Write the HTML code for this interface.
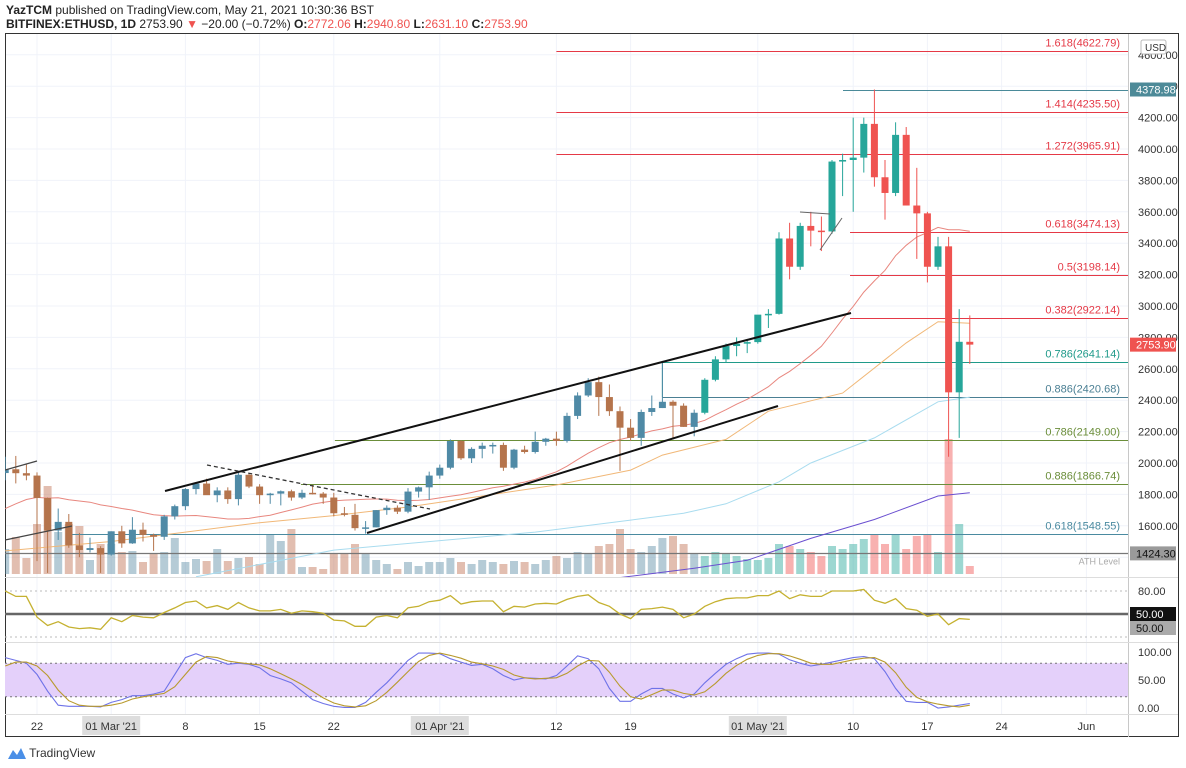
<!DOCTYPE html>
<html><head><meta charset="utf-8"><style>
html,body{margin:0;padding:0;background:#fff;width:1186px;height:768px;overflow:hidden;font-family:"Liberation Sans",sans-serif}
#hdr{position:absolute;left:6px;top:3px;font-size:12px;color:#222;line-height:14px}
#hdr .r{color:#ef5350}
svg{position:absolute;left:0;top:0}
#foot{position:absolute;left:8px;top:745px;font-size:12px;color:#333}
</style></head><body>
<div id="hdr">
<div><b>YazTCM</b> published on TradingView.com, May 21, 2021 10:30:36 BST</div>
<div><b>BITFINEX:ETHUSD, 1D</b> 2753.90 <span class="r">▼</span> −20.00 (−0.72%) <b>O:</b><span class="r">2772.06</span> <b>H:</b><span class="r">2940.80</span> <b>L:</b><span class="r">2631.10</span> <b>C:</b><span class="r">2753.90</span></div>
</div>
<svg id="chart" width="1186" height="768"></svg>
<div id="foot"><svg width="18" height="12" style="position:relative;left:0;top:2px" viewBox="0 0 18 12"><path d="M0 12 L5 3 L9 8 L13 1 L18 12 Z" fill="#4a8fe7"/></svg> TradingView</div>
<script>
// ---- data (Feb 19 .. May 21, 2021) ----
const opens =[1936,1960,1935,1920,1777,1570,1625,1475,1446,1458,1417,1565,1488,1575,1542,1530,1660,1725,1834,1869,1795,1825,1770,1925,1850,1795,1805,1820,1780,1810,1805,1780,1680,1670,1585,1590,1700,1715,1690,1818,1845,
1920,1970,2140,2030,2090,2110,2115,1970,2085,2070,2135,2155,2140,2300,2430,2515,2420,2330,2225,2160,2325,2350,2390,2365,2230,2320,2530,2660,2745,2760,
2770,2945,2950,3430,3250,3510,3480,3475,3920,3930,3945,4160,3820,3720,4090,3640,3590,3250,3380,2450,2772];
const highs =[2040,2045,1990,1940,1780,1710,1675,1555,1525,1470,1565,1600,1655,1620,1550,1670,1735,1840,1875,1900,1845,1845,1940,1930,1865,1810,1825,1830,1830,1860,1815,1810,1720,1740,1630,1700,1730,1730,1840,1850,1945,
1990,2150,2145,2100,2130,2130,2130,2090,2110,2200,2160,2200,2320,2450,2540,2550,2500,2360,2280,2340,2430,2650,2400,2380,2340,2540,2680,2760,2800,2790,
2940,2980,3470,3530,3530,3600,3570,3930,3970,4200,4200,4379,3930,4170,4140,3880,3600,3440,3440,2980,2940];
const lows  =[1890,1870,1890,1375,1300,1510,1460,1400,1430,1300,1410,1460,1485,1500,1440,1510,1640,1700,1800,1800,1750,1740,1730,1840,1740,1740,1730,1760,1770,1800,1740,1660,1660,1570,1550,1590,1670,1675,1680,1780,1765,
1900,1960,2020,2000,2030,2060,1950,1960,2060,2060,2110,2110,2130,2280,2420,2300,2300,1950,2140,2110,2300,2350,2150,2230,2170,2310,2520,2640,2680,2700,
2760,2860,2945,3170,3230,3380,3350,3460,3700,3600,3850,3760,3550,3700,3640,3300,3150,3230,2040,2160,2631];
const closes=[1960,1935,1920,1777,1570,1625,1475,1446,1458,1417,1565,1488,1575,1542,1530,1660,1725,1834,1869,1795,1825,1770,1925,1850,1795,1805,1820,1780,1810,1805,1780,1680,1670,1585,1590,1700,1715,1690,1818,1845,1920,
1970,2140,2030,2090,2110,2115,1970,2085,2070,2135,2155,2140,2300,2430,2515,2420,2330,2225,2160,2325,2350,2390,2365,2230,2320,2530,2660,2745,2760,2770,
2945,2950,3430,3250,3510,3480,3475,3920,3930,3945,4160,3820,3720,4090,3640,3590,3250,3380,2450,2772,2754];
const priorCloses=[1320,1370,1510,1660,1590,1720,1610,1610,1750,1770,1745,1785,1840,1815,1780,1780,1780,1850,1940];
const volumes=[25,37,16,50,88,42,50,48,14,30,30,22,23,12,20,22,36,12,15,13,25,13,16,17,10,40,33,45,7,7,5,20,20,30,20,14,10,5,12,8,12,
12,16,12,10,14,12,10,13,12,10,14,18,16,22,20,28,30,45,25,22,28,36,38,30,20,18,22,20,18,15,
14,16,30,28,25,22,18,28,25,30,35,40,30,40,25,38,40,22,135,50,8];
const ma50Idx=[0,10,17,24,31,38,45,52,59,62,68,72,79,85,88,91];
const ma50Val=[1440,1500,1560,1620,1665,1720,1790,1860,1955,2050,2150,2330,2445,2765,2900,2890];
const ma100Idx=[18,31,50,59,64,68,73,76,82,88,91];
const ma100Val=[1275,1445,1560,1636,1680,1740,1880,2000,2160,2390,2420];
const ma200Idx=[58,65,70,76,82,88,91];
const ma200Val=[1270,1330,1380,1520,1640,1790,1810];
const rsiVals=[80,73,73,46,35,40,33,31,32,30,45,40,48,46,45,52,58,65,67,58,61,56,65,58,54,54,56,51,54,53,51,42,41,34,34,46,48,45,58,60,66,
68,74,63,66,67,67,53,60,59,63,64,63,69,73,75,65,60,50,44,56,57,59,56,45,50,60,66,70,71,71,
74,74,80,70,75,73,73,80,80,80,82,68,64,70,57,55,47,50,36,44,43];
const stochK=[90,85,80,60,30,5,3,3,3,2,10,15,22,22,25,30,60,90,97,90,85,78,80,78,72,58,52,45,30,15,8,3,1,1,10,28,45,65,85,98,98,97,88,82,76,78,70,58,50,54,53,52,58,75,93,88,70,35,12,12,25,35,35,25,18,25,45,62,78,88,96,98,98,96,86,80,75,78,82,86,90,92,88,65,35,12,10,10,0,2,5,8];
const stochD=[75,82,82,75,58,32,13,5,3,3,5,9,16,20,23,26,38,60,82,92,90,84,81,79,77,70,61,52,42,30,18,9,4,2,4,13,28,46,65,83,94,98,94,89,82,79,75,69,59,54,52,53,54,62,75,85,84,64,39,20,16,24,32,32,26,23,29,44,62,76,87,94,97,97,93,87,80,78,78,82,86,89,90,82,63,37,19,11,7,4,2,5];
const priceTicks=[4600,4400,4200,4000,3800,3600,3400,3200,3000,2800,2600,2400,2200,2000,1800,1600,1400];
const timeLabels=["22","01 Mar '21","8","15","22","01 Apr '21","12","19","01 May '21","10","17","24","Jun"];
const timeIdx=[3,10,17,24,31,41,52,59,71,80,87,94,102];
const fibLabels=["1.618(4622.79)","1.414(4235.50)","1.272(3965.91)","0.618(3474.13)","0.5(3198.14)","0.382(2922.14)","0.786(2641.14)","0.886(2420.68)","0.786(2149.00)","0.886(1866.74)","0.618(1548.55)"];
const fibPrices=[4622.79,4235.50,3965.91,3474.13,3198.14,2922.14,2641.14,2420.68,2149.00,1866.74,1548.55];
const fibColors=["#e53946","#e53946","#e53946","#e53946","#e53946","#e53946","#1f9a8a","#4a7f93","#6b8e3a","#6b8e3a","#4a8aa0"];
const fibStartIdx=[52,52,52,79.7,79.7,79.7,62,62,31.1,27.9,6.3];

// ---- axes ----
const PL=5, PR=1128, R=1178;
const X=i=>37+(i-3)*10.6;
const Y=p=>149+(4000-p)*0.157;
const RSIY=v=>614-(v-50)*0.767;
const STY=v=>708-v*0.56;
const VB=574, VS=1.0;
const NS="http://www.w3.org/2000/svg";
const svg=document.getElementById('chart');
function el(tag,attrs,parent){const e=document.createElementNS(NS,tag);for(const k in attrs)e.setAttribute(k,attrs[k]);(parent||svg).appendChild(e);return e;}
function g(name){const e=el('g',{});return e;}
function clip(id,y0,y1){const d=el('defs',{});const c=el('clipPath',{id:id},d);el('rect',{x:PL,y:y0,width:PR-PL,height:y1-y0},c);}
clip('cm',34,577);clip('cr',578,642);clip('cs',643,714);

// frame & grid
const grid=g('grid-lines');
timeIdx.forEach(i=>{el('line',{x1:X(i),x2:X(i),y1:34,y2:714,stroke:'#f0f3fa','stroke-width':1},grid);});
priceTicks.forEach(p=>{el('line',{x1:PL,x2:PR,y1:Y(p),y2:Y(p),stroke:'#f0f3fa','stroke-width':1},grid);});
const frame=g('chart-frame');
el('rect',{x:5.5,y:33.5,width:R-5,height:703,fill:'none',stroke:'#333','stroke-width':1},frame);
el('line',{x1:PR+.5,x2:PR+.5,y1:34,y2:737,stroke:'#c8c8c8'},frame);
el('line',{x1:PL,x2:R,y1:577.5,y2:577.5,stroke:'#ddd'},frame);
el('line',{x1:PL,x2:R,y1:642.5,y2:642.5,stroke:'#ddd'},frame);
el('line',{x1:PL,x2:R,y1:714.5,y2:714.5,stroke:'#ddd'},frame);

// volume
const vol=g('volume-bars');vol.setAttribute('clip-path','url(#cm)');
volumes.forEach((v,i)=>{const up=closes[i]>=opens[i];const late=i>=66;
 const c=late?(up?'rgba(38,166,154,0.45)':'rgba(239,83,80,0.45)'):(up?'rgba(90,140,165,0.45)':'rgba(190,110,80,0.45)');
 const r=el('rect',{x:X(i)-4,y:VB-v*VS,width:8,height:v*VS,fill:c},vol);
 
 });

// horizontal levels
const lv=g('fib-levels');
fibPrices.forEach((p,k)=>{const y=Math.round(Y(p))+.5;
 el('line',{x1:X(fibStartIdx[k]),x2:PR,y1:y,y2:y,stroke:fibColors[k],'stroke-width':1},lv);
 const t=el('text',{x:1120,y:y-5,'text-anchor':'end','font-size':11,fill:fibColors[k]},lv);t.textContent=fibLabels[k];
 
 });
el('line',{x1:X(62),x2:X(62),y1:Y(2641.14),y2:Y(2420.68),stroke:'#1f9a8a'},lv);
el('line',{x1:843,x2:PR,y1:Math.round(Y(4378.98))+.5,y2:Math.round(Y(4378.98))+.5,stroke:'#4a8a99'},lv);
el('line',{x1:PL,x2:PR,y1:Math.round(Y(1424.3))+.5,y2:Math.round(Y(1424.3))+.5,stroke:'#777','stroke-width':1.3},lv);
const ath=el('text',{x:1120,y:Y(1424.3)+11,'text-anchor':'end','font-size':9,fill:'#aaa'},lv);ath.textContent='ATH Level';

// moving averages
function poly(pts,color,name,w){const p=el('polyline',{points:pts.map(a=>a[0].toFixed(1)+','+a[1].toFixed(1)).join(' '),fill:'none',stroke:color,'stroke-width':w||1,'clip-path':'url(#cm)'});
 
 return p;}
const all=priorCloses.concat(closes);const ma20=[];
for(let i=0;i<closes.length;i++){let s=0;for(let j=0;j<20;j++)s+=all[i+19-j];ma20.push([X(i),Y(s/20)]);}
poly(ma20,'#e8877f','ma20-line',1);
poly(ma50Idx.map((d,k)=>[X(d),Y(ma50Val[k])]),'#f1b878','ma50-line',1);
poly(ma100Idx.map((d,k)=>[X(d),Y(ma100Val[k])]),'#a9dcef','ma100-line',1);
poly(ma200Idx.map((d,k)=>[X(d),Y(ma200Val[k])]),'#6a4fd0','ma200-line',1);

// candles
const cg=g('candles');cg.setAttribute('clip-path','url(#cm)');
closes.forEach((c,i)=>{const o=opens[i];const up=c>=o;const late=i>=66;
 const col=late?(up?'#26a69a':'#ef5350'):(up?'#4f8aa6':'#b5744c');
 const x=X(i);
 el('line',{x1:x,x2:x,y1:Y(highs[i]),y2:Y(lows[i]),stroke:col,'stroke-width':1},cg);
 const top=Y(Math.max(o,c)),h=Math.max(1.5,Math.abs(Y(o)-Y(c)));
 const b=el('rect',{x:x-3.5,y:top,width:7,height:h,fill:col},cg);
 
 });

// trendlines
const tl=g('trendlines');tl.setAttribute('clip-path','url(#cm)');
el('line',{x1:165,y1:491,x2:851,y2:313,stroke:'#111','stroke-width':2},tl);
el('line',{x1:367,y1:533,x2:778,y2:406,stroke:'#111','stroke-width':2},tl);
el('line',{x1:5,y1:540,x2:72,y2:526,stroke:'#444','stroke-width':1.2},tl);
el('line',{x1:5,y1:470,x2:37,y2:461,stroke:'#444','stroke-width':1.2},tl);
el('line',{x1:207,y1:465,x2:430,y2:509,stroke:'#333','stroke-width':1.3,'stroke-dasharray':'4,3'},tl);
el('line',{x1:800,y1:212,x2:830,y2:214,stroke:'#666','stroke-width':1},tl);
el('line',{x1:820,y1:250,x2:842,y2:218,stroke:'#666','stroke-width':1},tl);

// RSI pane
const rp=g('rsi-pane');
[80,20].forEach(v=>el('line',{x1:PL,x2:PR,y1:RSIY(v),y2:RSIY(v),stroke:'#bbb','stroke-dasharray':'2,3'},rp));
el('line',{x1:PL,x2:PR,y1:RSIY(50),y2:RSIY(50),stroke:'#666','stroke-width':2.5},rp);
const rl=el('polyline',{points:rsiVals.map((v,i)=>X(i).toFixed(1)+','+RSIY(v).toFixed(1)).join(' '),fill:'none',stroke:'#c5b130','stroke-width':1.3,'clip-path':'url(#cr)'},rp);



// Stoch pane
const sp=g('stoch-rsi-pane');
el('rect',{x:PL,y:STY(80),width:PR-PL,height:STY(20)-STY(80),fill:'#e4d0fa'},sp);
[80,20].forEach(v=>el('line',{x1:PL,x2:PR,y1:STY(v),y2:STY(v),stroke:'#777','stroke-dasharray':'2,3'},sp));
const kl=el('polyline',{points:stochK.map((v,i)=>X(i).toFixed(1)+','+STY(v).toFixed(1)).join(' '),fill:'none',stroke:'#6f73e8','stroke-width':1.1,'clip-path':'url(#cs)'},sp);


const dl=el('polyline',{points:stochD.map((v,i)=>X(i).toFixed(1)+','+STY(v).toFixed(1)).join(' '),fill:'none',stroke:'#b89a2e','stroke-width':1.1,'clip-path':'url(#cs)'},sp);



// right axis
const ax=g('price-axis');
priceTicks.forEach(p=>{if(p>4500||p<1500)return;const t=el('text',{x:1138,y:Y(p)+4,'font-size':11,fill:'#333'},ax);t.textContent=p.toFixed(2);});
function tag(y,txt,bg,fg,name){const r=el('rect',{x:1130,y:y-7,width:46,height:14,fill:bg},ax);
 
 
 const t=el('text',{x:1136,y:y+4,'font-size':11,fill:fg},ax);t.textContent=txt;}
const t46=el('text',{x:1138,y:Y(4600)+4,'font-size':11,fill:'#333'},ax);t46.textContent='4600.00';
const usd=el('rect',{x:1141,y:40,width:25,height:14,fill:'#fff',stroke:'#bbb',rx:2},ax);


const ut=el('text',{x:1145,y:51,'font-size':10,fill:'#333'},ax);ut.textContent='USD';
tag(Y(4378.98),'4378.98','#4d8a98','#fff','ath-price-tag');
tag(Y(2753.9),'2753.90','#ef5350','#fff','last-price-tag');
tag(Y(1424.3),'1424.30','#9a9a9a','#111','ath-level-tag');
const r80=el('text',{x:1138,y:RSIY(80)+4,'font-size':11,fill:'#333'},ax);r80.textContent='80.00';
tag(RSIY(50),'50.00','#111','#fff','rsi-mid-tag');
tag(628,'50.00','#aaa','#111','rsi-value-tag');
[[100,'100.00'],[50,'50.00'],[0,'0.00']].forEach(a=>{const t=el('text',{x:1138,y:STY(a[0])+4,'font-size':11,fill:'#333'},ax);t.textContent=a[1];});

// time axis
const ta=g('time-axis');
timeLabels.forEach((s,k)=>{const x=X(timeIdx[k]);const big=s.length>3;
 if(big){el('rect',{x:x-29,y:716,width:58,height:19,fill:'#ddd'},ta);}
 const t=el('text',{x:x,y:730,'text-anchor':'middle','font-size':11,fill:'#333'},ta);t.textContent=s;
 
 });
</script>
</body></html>
